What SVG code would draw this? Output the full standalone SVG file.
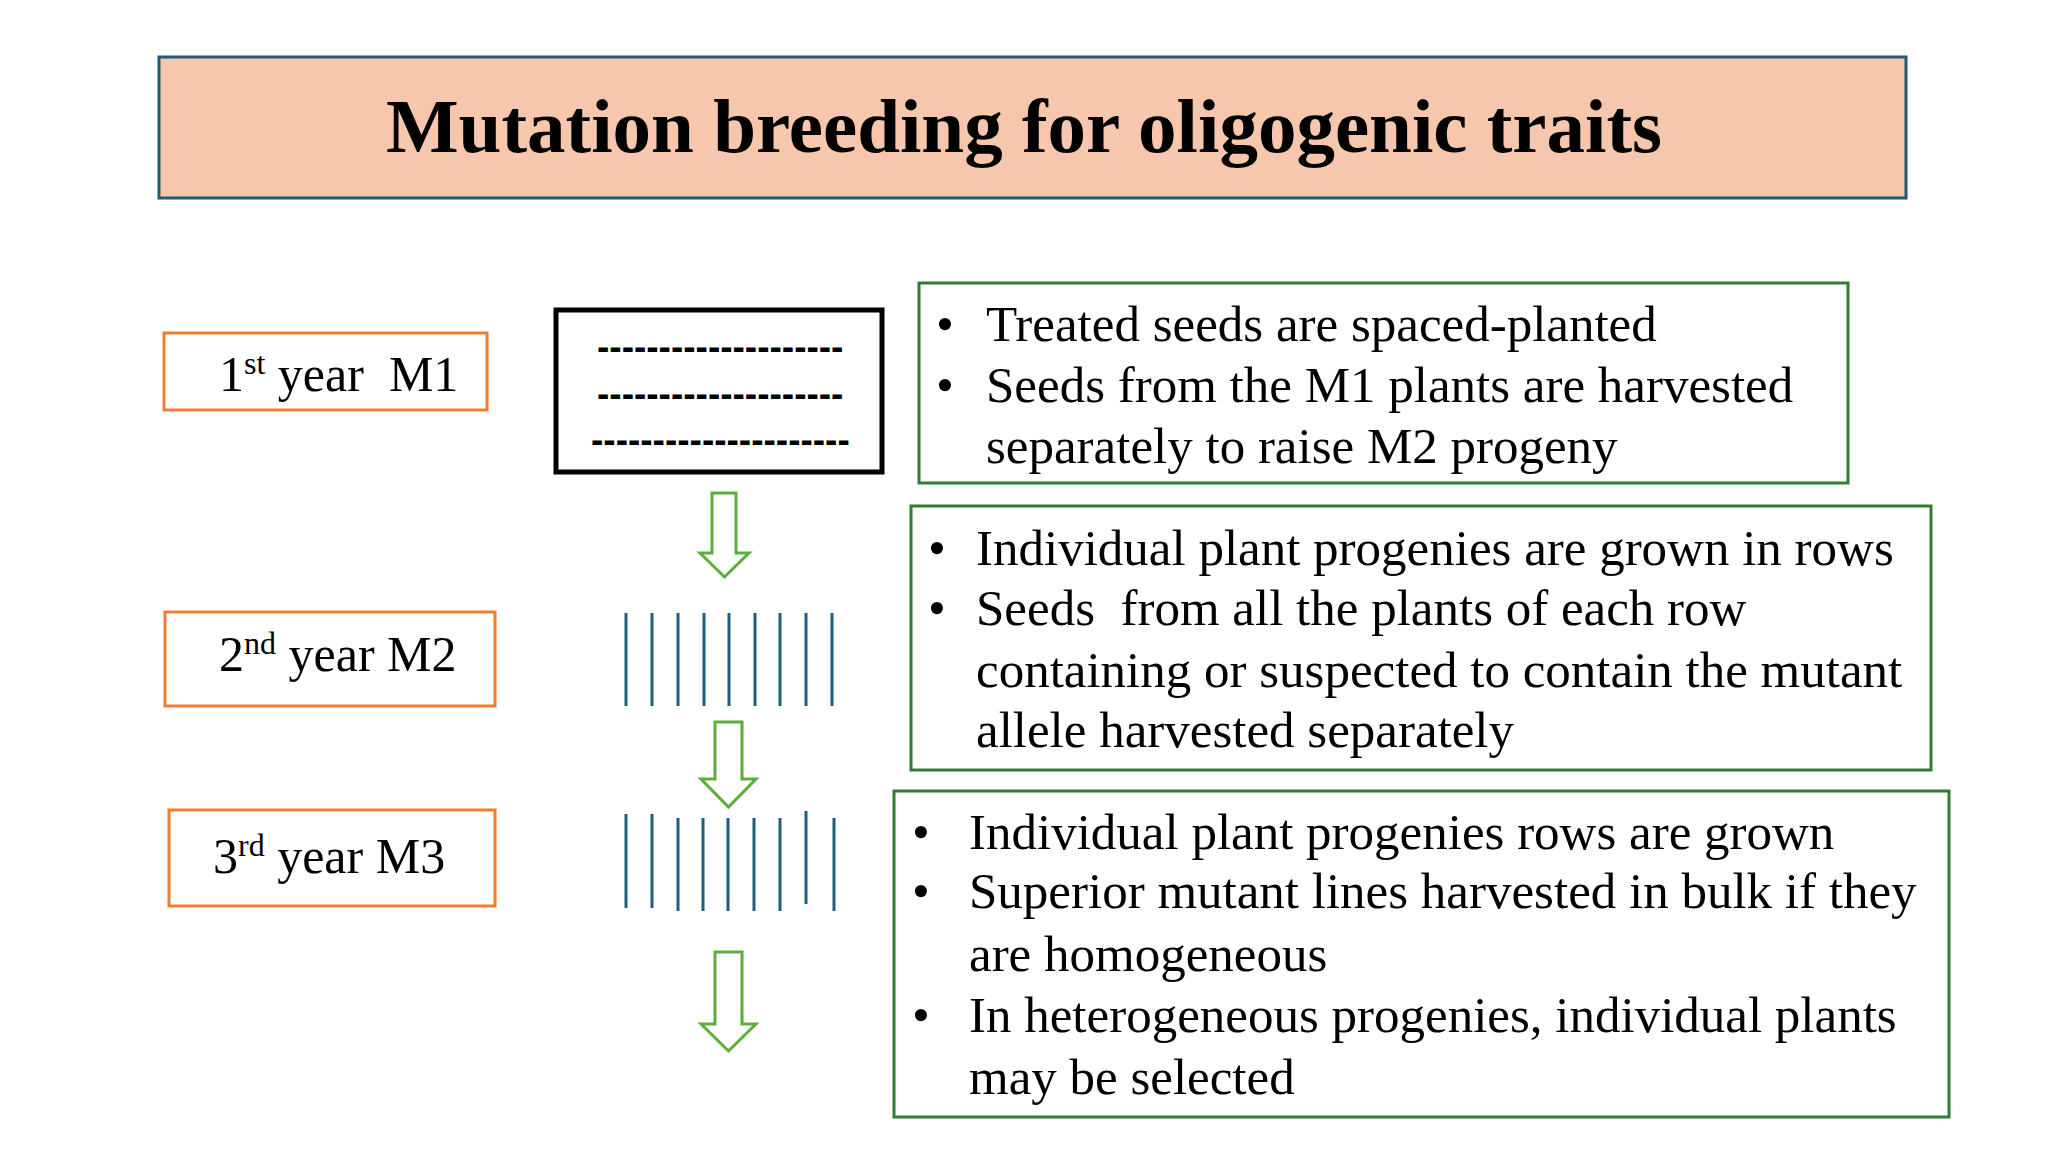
<svg xmlns="http://www.w3.org/2000/svg" width="2048" height="1152" viewBox="0 0 2048 1152">
<style>
.serif{font-family:"Liberation Serif","Times New Roman",serif;fill:#000}
.title{font-size:77px;font-weight:bold}
.yr{font-size:50px;white-space:pre}
.body{font-size:51px;white-space:pre}
.yearbox{fill:#fff;stroke:#ED7D31;stroke-width:3}
.infobox{fill:#fff;stroke:#2E7D32;stroke-width:3}
.arrow{fill:#fff;stroke:#5BAE3A;stroke-width:3;stroke-linejoin:miter}
.row{stroke:#1D5F7E;stroke-width:3}
.dash{font-family:"Liberation Sans",Arial,sans-serif;font-weight:bold;font-size:37px;fill:#000}
</style>
<rect width="2048" height="1152" fill="#fff"/>
<g id="title">
<rect x="159" y="57" width="1747" height="141" fill="#F6C6AD" stroke="#1F5C73" stroke-width="3"/>
<text class="serif title" x="1024" y="152" text-anchor="middle">Mutation breeding for oligogenic traits</text>
</g>
<g id="year1">
<rect class="yearbox" x="164" y="333" width="323" height="77"/>
<text class="serif yr" x="219" y="391">1<tspan font-size="32" dy="-17">st</tspan><tspan dy="17"> year  M1</tspan></text>
</g>
<g id="year2">
<rect class="yearbox" x="165" y="612" width="330" height="94"/>
<text class="serif yr" x="219" y="671">2<tspan font-size="32" dy="-17">nd</tspan><tspan dy="17"> year M2</tspan></text>
</g>
<g id="year3">
<rect class="yearbox" x="169" y="810" width="326" height="96"/>
<text class="serif yr" x="213" y="873">3<tspan font-size="32" dy="-17">rd</tspan><tspan dy="17"> year M3</tspan></text>
</g>
<g id="m1-field">
<rect x="556" y="310" width="326" height="162" fill="#fff" stroke="#000" stroke-width="5"/>
<text class="dash" x="597" y="359">--------------------</text>
<text class="dash" x="597" y="406">--------------------</text>
<text class="dash" x="591" y="452">---------------------</text>
</g>
<g id="m2-rows">
<line class="row" x1="626" y1="613" x2="626" y2="706"/>
<line class="row" x1="652" y1="613" x2="652" y2="706"/>
<line class="row" x1="678" y1="613" x2="678" y2="706"/>
<line class="row" x1="704" y1="613" x2="704" y2="706"/>
<line class="row" x1="729" y1="613" x2="729" y2="706"/>
<line class="row" x1="755" y1="613" x2="755" y2="706"/>
<line class="row" x1="780" y1="613" x2="780" y2="706"/>
<line class="row" x1="806" y1="613" x2="806" y2="706"/>
<line class="row" x1="832" y1="613" x2="832" y2="706"/>
</g>
<g id="m3-rows">
<line class="row" x1="626" y1="814" x2="626" y2="908"/>
<line class="row" x1="652" y1="814" x2="652" y2="908"/>
<line class="row" x1="678" y1="818" x2="678" y2="911"/>
<line class="row" x1="703" y1="818" x2="703" y2="911"/>
<line class="row" x1="728" y1="818" x2="728" y2="911"/>
<line class="row" x1="754" y1="818" x2="754" y2="911"/>
<line class="row" x1="780" y1="818" x2="780" y2="911"/>
<line class="row" x1="806" y1="811" x2="806" y2="904"/>
<line class="row" x1="834" y1="818" x2="834" y2="911"/>
</g>
<g id="connectors">
<path class="arrow" d="M712,493 H736 V553 H749 L724.5,577 L700,553 H712 Z"/>
<path class="arrow" d="M715,722 H742 V779 H756 L728.5,807 L701,779 H715 Z"/>
<path class="arrow" d="M715,952 H742 V1024 H756 L728.5,1051 L701,1024 H715 Z"/>
</g>
<g id="info1">
<rect class="infobox" x="919" y="283" width="929" height="200"/>
<text class="serif body" x="936" y="341">•</text>
<text class="serif body" x="986" y="341">Treated seeds are spaced-planted</text>
<text class="serif body" x="936" y="402">•</text>
<text class="serif body" x="986" y="402">Seeds from the M1 plants are harvested</text>
<text class="serif body" x="986" y="463">separately to raise M2 progeny</text>
</g>
<g id="info2">
<rect class="infobox" x="911" y="506" width="1020" height="264"/>
<text class="serif body" x="928" y="565">•</text>
<text class="serif body" x="976" y="565">Individual plant progenies are grown in rows</text>
<text class="serif body" x="928" y="625">•</text>
<text class="serif body" x="976" y="625">Seeds  from all the plants of each row</text>
<text class="serif body" x="976" y="687">containing or suspected to contain the mutant</text>
<text class="serif body" x="976" y="747">allele harvested separately</text>
</g>
<g id="info3">
<rect class="infobox" x="894" y="791" width="1055" height="326"/>
<text class="serif body" x="912" y="849">•</text>
<text class="serif body" x="969" y="849">Individual plant progenies rows are grown</text>
<text class="serif body" x="912" y="908">•</text>
<text class="serif body" x="969" y="908">Superior mutant lines harvested in bulk if they</text>
<text class="serif body" x="969" y="971">are homogeneous</text>
<text class="serif body" x="912" y="1032">•</text>
<text class="serif body" x="969" y="1032">In heterogeneous progenies, individual plants</text>
<text class="serif body" x="969" y="1094">may be selected</text>
</g>
</svg>
